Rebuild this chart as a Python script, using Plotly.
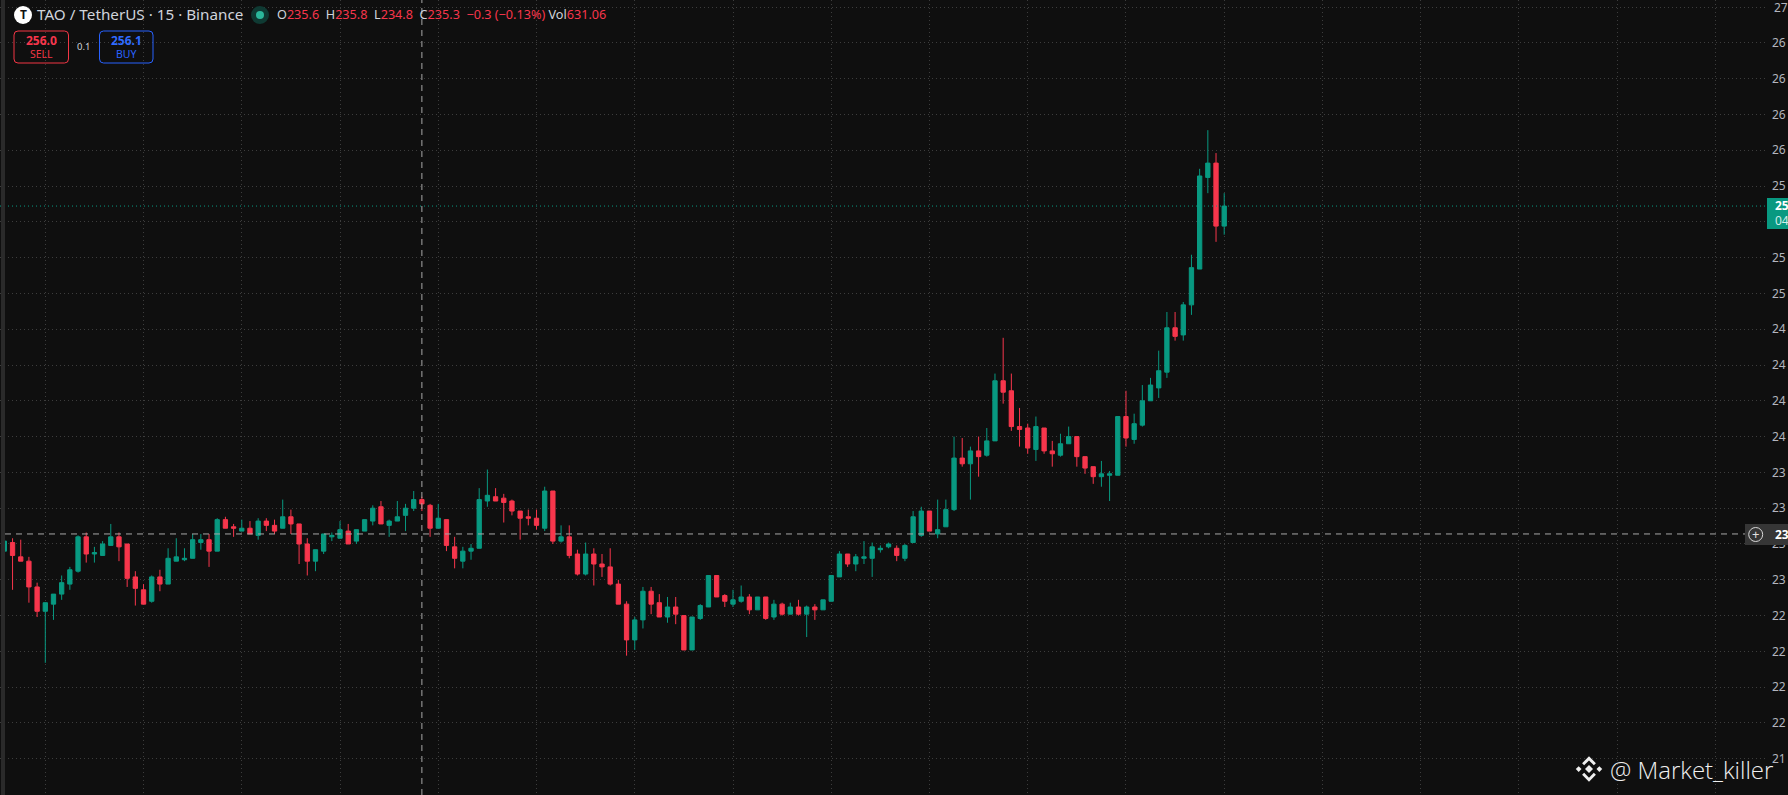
import plotly.graph_objects as go

bar_index = list(range(-5, 145))
open_prices = [232.0,232.6,231.6,231.3,229.5,227.8,228.3,229.0,229.7,230.6,
233.0,231.8,231.7,232.4,233.0,232.5,230.2,229.3,228.5,230.2,
229.7,231.3,231.4,231.5,232.6,232.8,232.0,234.2,233.7,233.4,
233.6,233.1,234.1,233.8,233.6,234.4,233.9,232.5,231.3,232.0,
233.0,232.9,233.4,232.7,233.4,234.1,235.1,233.8,234.1,234.5,
235.0,235.6,235.2,233.6,234.2,232.3,231.3,232.0,232.2,235.5,
235.8,235.7,235.5,234.8,234.4,234.3,233.6,236.2,232.7,233.0,
231.8,230.4,231.8,231.1,230.9,229.7,228.3,225.8,227.2,229.2,
228.4,227.4,228.1,227.5,225.1,227.3,228.1,230.3,228.9,228.3,
228.5,228.8,227.9,228.8,227.4,228.3,227.6,228.1,227.6,228.1,
227.9,228.5,230.2,231.8,231.1,231.5,231.5,232.1,232.3,232.2,
231.5,232.6,233.1,234.8,233.2,233.7,234.9,238.5,238.1,239.0,
238.7,239.7,243.9,243.2,240.7,240.6,239.1,240.6,239.0,238.7,
239.5,240.0,238.6,237.9,237.2,237.3,237.3,241.4,239.8,240.8,
242.5,243.4,244.5,247.6,247.1,249.2,251.7,258.1,259.1,254.7]
high_prices = [232.7,232.9,232.8,231.6,229.8,228.4,229.0,230.3,230.9,233.1,
233.3,232.3,232.7,233.9,233.3,232.5,230.6,229.7,230.3,230.7,
232.2,232.9,232.2,233.2,233.2,233.2,234.3,234.4,233.9,234.2,
234.1,234.3,234.3,234.2,235.6,234.9,233.9,232.9,232.1,233.2,
233.3,234.1,233.9,233.5,234.2,235.2,235.5,234.2,235.5,235.3,
236.2,235.8,235.3,235.3,234.2,233.0,232.3,232.5,236.4,237.7,
236.4,236.0,235.6,234.8,234.9,234.9,236.5,236.2,233.8,233.8,
232.1,232.6,232.2,231.8,232.2,230.0,228.5,227.4,229.5,229.5,
229.0,228.8,228.8,227.5,227.4,228.3,230.3,230.3,229.0,229.3,
229.6,229.0,228.8,228.8,228.6,228.4,228.4,228.6,228.2,228.3,
228.6,230.3,232.0,231.8,231.8,232.7,232.6,232.4,232.6,232.4,
232.5,234.8,235.1,234.8,235.6,235.6,240.0,239.9,239.3,240.0,
240.6,244.4,246.9,244.4,242.0,240.9,241.4,240.6,239.7,240.2,
240.7,240.0,238.6,237.9,238.3,237.6,241.4,243.2,241.6,243.6,
244.1,246.0,248.7,248.7,249.4,252.7,258.7,261.4,259.8,257.0]
low_prices = [232.0,229.3,231.3,228.4,227.4,224.2,227.2,228.6,229.3,230.5,
231.2,231.2,231.7,232.4,231.3,229.5,228.2,228.3,228.4,229.2,
229.7,231.3,231.3,231.5,232.1,230.9,232.0,233.6,233.0,233.4,
233.2,232.8,233.4,233.2,233.6,233.2,231.1,230.3,230.6,231.8,
232.7,232.9,232.5,232.5,233.4,233.8,233.9,233.0,234.1,233.4,
234.8,234.8,233.0,233.6,232.0,230.8,230.8,231.4,232.2,235.1,
235.5,234.0,234.5,232.8,233.8,233.5,233.4,232.5,232.6,231.5,
230.3,230.3,229.6,230.2,229.6,228.3,224.7,225.1,226.6,227.6,
227.4,227.0,226.9,225.1,225.1,227.2,228.1,228.8,228.1,228.1,
228.4,227.6,227.9,227.2,227.2,227.5,227.6,227.5,226.0,227.2,
227.9,228.5,230.2,230.9,230.6,231.1,230.2,231.9,232.2,231.3,
231.3,232.6,233.0,233.4,232.9,233.7,234.8,237.9,235.6,237.2,
238.6,239.7,242.3,240.4,239.3,238.8,238.3,238.8,237.9,238.6,
239.5,237.9,237.4,236.7,236.5,235.5,237.3,239.3,239.5,240.7,
242.5,242.7,244.1,246.7,246.7,248.5,251.7,257.0,253.6,254.1]
close_prices = [232.7,231.7,231.3,229.5,227.8,228.4,229.0,229.8,230.7,233.0,
231.8,231.9,232.5,233.0,232.3,230.1,229.4,228.3,230.2,229.7,
231.5,231.6,231.5,232.8,232.8,232.0,234.2,233.6,233.6,233.6,
233.2,234.1,233.8,233.4,234.4,233.9,232.5,231.3,232.1,233.2,
233.1,233.5,232.5,233.5,234.2,235.0,233.9,234.1,234.4,235.0,
235.6,235.3,233.6,234.3,232.4,231.5,232.0,232.2,235.6,235.9,
235.5,235.4,234.8,234.3,234.3,233.8,236.2,232.7,233.0,231.7,
230.4,231.8,231.1,230.9,229.7,228.3,225.8,227.2,229.2,228.3,
227.4,228.1,227.6,225.1,227.4,228.2,230.3,228.8,228.5,228.6,
228.8,227.9,228.8,227.3,228.3,227.6,228.1,227.6,228.1,227.9,
228.6,230.3,231.8,231.1,231.6,231.6,232.3,232.2,232.5,231.7,
232.4,234.4,234.8,233.4,233.5,234.9,238.5,238.1,239.0,238.6,
239.7,243.9,243.1,240.7,240.5,239.2,240.7,239.0,238.8,239.5,
240.0,238.6,237.8,237.2,237.4,237.4,241.4,239.9,240.9,242.5,
243.6,244.6,247.6,247.0,249.2,251.8,258.2,259.1,254.7,256.1]

tick_values = [270,267.5,265,262.5,260,257.5,255,252.5,250,247.5,245,242.5,240,237.5,235,232.5,230,227.5,225,222.5,220,217.5]
tick_labels = ["","26","26","26","26","25","","25","25","24","24","24","24","23","23","23","23","22","22","22","22","21"]
top_tick_label = "27"

last_price = 256.1
cross_price = 233.2
cross_bar = 46

BG = "#0f0f0f"; UP = "#089981"; DOWN = "#f7364c"; GRID = "#3d3d3d"
W, H, PW = 1788, 795, 1767
FONT = "Noto Sans"

def px(x): return x / PW
def py(y): return 1 - y / H

fig = go.Figure(go.Candlestick(
    x=bar_index, open=open_prices, high=high_prices, low=low_prices, close=close_prices,
    increasing=dict(line=dict(color=UP, width=1), fillcolor=UP),
    decreasing=dict(line=dict(color=DOWN, width=1), fillcolor=DOWN),
    whiskerwidth=0, hoverinfo="skip", showlegend=False))

shapes, anns = [], []
def rect(x0, y0, x1, y1, fill, line=None):
    shapes.append(dict(type="rect", xref="paper", yref="paper", x0=px(x0), x1=px(x1), y0=py(y0), y1=py(y1),
                       fillcolor=fill, line=dict(width=0 if line is None else 1, color=line or fill)))
def rrect(x0, y0, x1, y1, r, color):
    p = (f"M{px(x0+r)},{py(y0)} L{px(x1-r)},{py(y0)} Q{px(x1)},{py(y0)} {px(x1)},{py(y0+r)} "
         f"L{px(x1)},{py(y1-r)} Q{px(x1)},{py(y1)} {px(x1-r)},{py(y1)} L{px(x0+r)},{py(y1)} "
         f"Q{px(x0)},{py(y1)} {px(x0)},{py(y1-r)} L{px(x0)},{py(y0+r)} Q{px(x0)},{py(y0)} {px(x0+r)},{py(y0)} Z")
    shapes.append(dict(type="path", xref="paper", yref="paper", path=p, line=dict(color=color, width=1)))
def circle(cx, cy, r, fill, line=None):
    shapes.append(dict(type="circle", xref="paper", yref="paper", x0=px(cx-r), x1=px(cx+r), y0=py(cy-r), y1=py(cy+r),
                       fillcolor=fill, line=dict(width=0 if line is None else 1, color=line or fill)))
def poly(pts, fill):
    p = "M" + " L".join(f"{px(a)},{py(b)}" for a, b in pts) + " Z"
    shapes.append(dict(type="path", xref="paper", yref="paper", path=p, fillcolor=fill, line=dict(width=0)))
def text(x, y, s, size, color, anchor="left", font=FONT, weight=None):
    f = dict(family=font, size=size, color=color)
    if weight:
        f["weight"] = weight
    anns.append(dict(xref="paper", yref="paper", x=px(x), y=py(y), text=s, showarrow=False, xanchor=anchor,
                     yanchor="middle", align=anchor, font=f, borderpad=0, borderwidth=0))

# last-price line and crosshair
shapes.append(dict(type="line", xref="paper", yref="y", x0=0, x1=1, y0=last_price, y1=last_price,
                   line=dict(color=UP, width=1, dash="1px,3px")))
shapes.append(dict(type="line", xref="paper", yref="y", x0=px(5), x1=px(1745), y0=cross_price, y1=cross_price,
                   line=dict(color="#a8a8a8", width=1, dash="6px,5px")))
shapes.append(dict(type="line", xref="x", yref="paper", x0=cross_bar, x1=cross_bar, y0=0, y1=1,
                   line=dict(color="#a8a8a8", width=1, dash="6px,5px")))

# left edge stripe
rect(1, 0, 5, H, "#2a2a2a")

# price-scale labels
text(1774, 8, top_tick_label, 12, "#b2b5be")
rect(1767, 198, W+2, 229, UP)
text(1775, 206, "<b>25</b>", 12, "#ffffff")
text(1775, 221, "04", 12, "#d2eee9")
rect(1745, 524, 1767, 545, "#363636")
rect(1767, 524, W+2, 545, "#363636")
text(1775, 534, "<b>23</b>", 12, "#ffffff")
circle(1755.7, 534.5, 7, "rgba(0,0,0,0)", "#d8d8d8")
text(1755.7, 534, "+", 13, "#e0e0e0", "center")

# header
circle(23, 15, 9, "#ffffff")
text(23, 14.5, "<b>T</b>", 12, "#111111", "center")
text(37, 14.5, "TAO / TetherUS · 15 · Binance", 15.25, "#d1d4dc")
circle(260, 15, 9, "#0f3a33")
circle(260, 15, 4, "#2bb79b")
lbl = "#d1d4dc"
def ohlc(k, v): return f'<span style="color:{lbl}">{k}</span><span style="color:{DOWN}">{v}</span>'
text(277, 14.5, "  ".join([ohlc("O","235.6"), ohlc("H","235.8"), ohlc("L","234.8"), ohlc("C","235.3")]) +
     f' <span style="color:{DOWN}"> −0.3 (−0.13%)</span> ' + ohlc("Vol","631.06"), 12.65, lbl)

# trade buttons
rrect(14, 31, 68.5, 63, 4, "#f23645")
text(41.5, 40.5, "<b>256.0</b>", 12, "#f7364c", "center")
text(41.5, 54, "SELL", 10.5, "#f23645", "center")
text(83, 46.5, "0.1", 9.5, "#d1d4dc", "center")
rrect(99.5, 31, 153, 63, 4, "#2962ff")
text(126, 40.5, "<b>256.1</b>", 12, "#2f6bff", "center")
text(126, 54, "BUY", 10.5, "#2962ff", "center")

# watermark
cx, cy, WM, s = 1589, 769, "#f0f0f0", 1.15
def logo(pts): poly([(cx + a*s, cy + b*s) for a, b in pts], WM)
logo([(0, -3.5), (3.5, 0), (0, 3.5), (-3.5, 0)])
logo([(-9, -2.5), (-6.5, 0), (-9, 2.5), (-11.5, 0)])
logo([(9, -2.5), (11.5, 0), (9, 2.5), (6.5, 0)])
logo([(0, -11), (6, -5), (4.2, -3.3), (0, -7.5), (-4.2, -3.3), (-6, -5)])
logo([(0, 11), (6, 5), (4.2, 3.3), (0, 7.5), (-4.2, 3.3), (-6, 5)])
text(1610, 769, "@ Market_killer", 24, WM, font="Open Sans", weight=300)

fig.update_layout(
    width=W, height=H, margin=dict(l=0, r=W-PW, t=0, b=0), paper_bgcolor=BG, plot_bgcolor=BG,
    showlegend=False, shapes=shapes, annotations=anns, dragmode=False, hovermode=False, boxgap=0.25,
    xaxis=dict(range=[-5.533, 210.3], tick0=0, dtick=12, showticklabels=False, ticks="", showline=False, zeroline=False,
               showgrid=True, gridcolor=GRID, griddash="1px,3px", gridwidth=1, rangeslider=dict(visible=False), fixedrange=True),
    yaxis=dict(range=[214.97, 270.49], side="right", tickmode="array", tickvals=tick_values, ticktext=tick_labels,
               showgrid=True, gridcolor=GRID, griddash="1px,3px", gridwidth=1, zeroline=False, showline=False, ticks="",
               ticklabelstandoff=4, tickfont=dict(family=FONT, size=12, color="#b2b5be"), fixedrange=True),
)
fig.write_html("out.html", config=dict(displayModeBar=False),
               post_script="document.body.style.margin='0';document.body.style.background='#0f0f0f';")
